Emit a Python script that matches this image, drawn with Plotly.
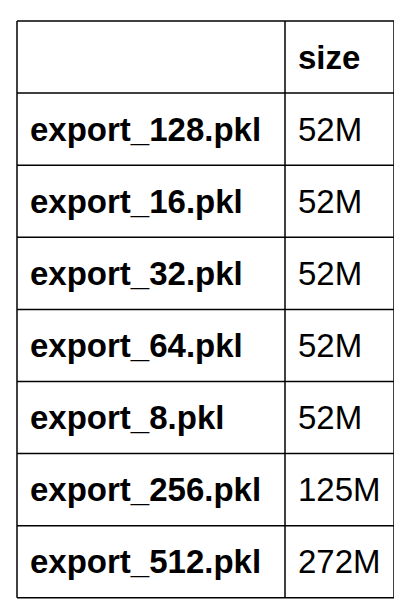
import plotly.graph_objects as go

files = ["export_128.pkl", "export_16.pkl", "export_32.pkl", "export_64.pkl",
         "export_8.pkl", "export_256.pkl", "export_512.pkl"]
sizes = ["52M", "52M", "52M", "52M", "52M", "125M", "272M"]
header = ["", "size"]

# table geometry in pixels
left, mid, right, top, rowh = 9, 277, 386, 13, 72.1
nrows = len(files) + 1
bottom = top + rowh * nrows

fig = go.Figure()
shapes = []
for i in range(nrows + 1):
    y = top + rowh * i
    shapes.append(dict(type="line", x0=left, x1=right, y0=y, y1=y,
                       line=dict(color="black", width=1.5)))
for x in (left, mid, right):
    shapes.append(dict(type="line", x0=x, x1=x, y0=top, y1=bottom,
                       line=dict(color="black", width=1.5)))
shapes.append(dict(type="rect", x0=0, x1=402, y0=592, y1=600,
                   fillcolor="#eeeeee", line=dict(width=0), layer="below"))

font = dict(family="Liberation Sans", size=33, color="black")
ann = []
rows = [header] + [[f, s] for f, s in zip(files, sizes)]
for i, (a, b) in enumerate(rows):
    yc = top + rowh * (i + 0.5)
    ann.append(dict(x=left + 11, y=yc, text=f"<b>{a}</b>" if a else "",
                    xanchor="left", yanchor="middle", showarrow=False, font=font))
    ann.append(dict(x=mid + 11, y=yc, text=f"<b>{b}</b>" if i == 0 else b,
                    xanchor="left", yanchor="middle", showarrow=False, font=font))

fig.update_layout(width=402, height=600, margin=dict(l=0, r=0, t=0, b=0),
                  paper_bgcolor="white", plot_bgcolor="white",
                  shapes=shapes, annotations=ann,
                  xaxis=dict(range=[0, 402], visible=False, fixedrange=True),
                  yaxis=dict(range=[600, 0], visible=False, fixedrange=True))
fig.write_html("out.html")
